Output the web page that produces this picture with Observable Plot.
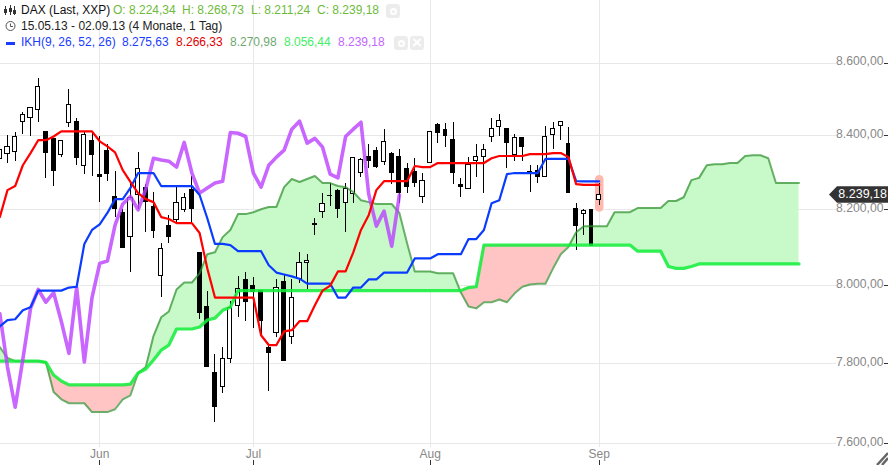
<!DOCTYPE html>
<html><head><meta charset="utf-8">
<script src="https://cdn.jsdelivr.net/npm/d3@7"></script>
<script src="https://cdn.jsdelivr.net/npm/@observablehq/plot@0.6"></script>
<style>
html,body{margin:0;padding:0;background:#fff;}
#wrap{position:relative;width:888px;height:465px;overflow:hidden;font-family:"Liberation Sans",Arial,sans-serif;}
#wrap svg{display:block;}
.t{position:absolute;font-size:12px;line-height:14px;white-space:nowrap;}
.b{position:absolute;width:14px;height:14px;border-radius:3px;background:#ececec;}
.b:after{content:"";position:absolute;left:3.5px;top:3.5px;width:3px;height:3px;border:2px solid #fff;border-radius:50%;}
.x:after{content:"\00d7";left:2px;top:-2px;width:auto;height:auto;border:0;color:#fff;font-size:17px;font-weight:bold;line-height:17px;border-radius:0;}
#last{position:absolute;left:829px;width:59px;height:16.5px;background:#333;color:#fff;font-size:12.5px;line-height:16.5px;text-align:right;box-sizing:border-box;padding-right:1px;clip-path:polygon(0 50%,8px 0,100% 0,100% 100%,8px 100%);}
</style></head><body><div id="wrap"></div>
<script>
const highs=[8368,8400,8408,8463,8477,8557,8411,8392,8387,8527,
8447,8408,8408,8397,8376,8301,8199,8274,8354,8266,
8247,8111,8185,8263,8244,8290,8087,7985,7824,7842,
7959,8024,8034,8021,7987,7847,8016,8026,8016,8087,
8082,8177,8244,8271,8255,8271,8338,8338,8376,8368,
8417,8354,8362,8325,8336,8298,8408,8433,8433,8436,
8282,8341,8376,8376,8447,8458,8419,8403,8395,8319,
8319,8425,8436,8439,8422,8217,8201,8201,8268.73];
const lows=[8325,8325,8328,8403,8397,8436,8282,8263,8341,8422,
8317,8295,8290,8218,8274,8180,8098,8034,8199,8140,
8124,7969,8111,8167,8191,8164,7913,7791,7653,7725,
7801,7918,7906,7890,7867,7730,7865,7804,7849,8005,
7990,8130,8177,8209,8177,8138,8217,8287,8311,8309,
8319,8266,8217,8244,8258,8215,8325,8379,8368,8268,
8231,8255,8285,8242,8381,8397,8309,8330,8328,8247,
8271,8287,8362,8387,8242,8093,8132,8103,8211.24];
const opens=[8336,8349,8354,8436,8447,8469,8411,8392,8346,8433,
8439,8317,8387,8293,8360,8236,8191,8127,8239,8258,
8207,8024,8159,8172,8199,8255,8087,7946,7778,7741,
7811,7946,8016,8000,7987,7842,7877,8011,7867,8018,
8058,8164,8193,8239,8252,8217,8242,8298,8344,8360,
8327,8352,8344,8309,8303,8233,8325,8430,8417,8389,
8266,8255,8330,8341,8395,8422,8419,8346,8395,8301,
8306,8287,8400,8425,8379,8204,8188,8199,8224.34];
const closes=[8360,8368,8395,8455,8474,8532,8352,8303,8384,8483,
8336,8400,8346,8285,8295,8199,8098,8231,8309,8220,
8143,8095,8127,8217,8231,8199,7928,7791,7690,7811,
7941,7990,7957,7982,7908,7826,7995,7804,7969,8058,
8064,8159,8215,8235,8199,8255,8338,8333,8330,8314,
8381,8298,8244,8258,8271,8276,8408,8406,8397,8298,
8260,8319,8341,8360,8417,8439,8379,8392,8368,8295,
8285,8397,8417,8436,8242,8156,8196,8103,8239.18];
const tenkan=[7895,7911,7913,7936,7944,7987,7987,7987,7987,7995,
7997,8109,8146,8161,8191,8228,8228,8258,8298,8298,
8298,8263,8263,8263,8263,8263,8239,8177,8109,8109,
8106,8090,8090,8090,8090,8053,8034,8029,8024,8018,
8005,8005,8005,8005,7969,7969,7995,7995,8016,8016,
8034,8034,8034,8034,8071,8071,8071,8082,8082,8082,
8082,8122,8122,8146,8217,8225,8295,8298,8298,8298,
8298,8336,8336,8336,8336,8276,8275.63,8275.63,8275.63];
const kijun=[8180,8252,8263,8319,8352,8387,8387,8397,8411,8411,
8411,8411,8411,8384,8370,8354,8306,8274,8244,8228,
8220,8180,8175,8164,8164,8164,8138,8045,7969,7969,
7969,7969,7969,7969,7872,7847,7847,7882,7885,7908,
7908,7949,7987,8000,8037,8037,8087,8146,8185,8252,
8276,8276,8276,8276,8317,8314,8314,8325,8325,8325,
8325,8325,8325,8325,8338,8344,8344,8344,8344,8349,
8349,8349,8352,8352,8341,8268,8266.33,8266.33,8266.33];
const chikou=[7928,7791,7690,7811,7941,7990,7957,7982,7908,7826,
7995,7804,7969,8058,8064,8159,8215,8235,8199,8255,
8338,8333,8330,8314,8381,8298,8244,8258,8271,8276,
8408,8406,8397,8298,8260,8319,8341,8360,8417,8439,
8379,8392,8368,8295,8285,8397,8417,8436,8242,8156,
8196,8103,8239.18];
const senkouA=[7842,7814,7806,7806,7806,7806,7803,7728,7710,7700,
7700,7700,7678,7678,7678,7685,7710,7720,7776,7791,
7870,7918,7933,7990,8008,8008,8032,8082,8087,8127,
8146,8188,8188,8193,8201,8207,8207,8260,8282,8274,
8282,8290,8271,8271,8263,8260,8247,8225,8220,8215,
8215,8215,8191,8111,8037,8037,8037,8032,8032,8032,
7982,7946,7941,7957,7957,7964,7957,7980,7997,8003,
8005,8005,8045,8082,8101,8140,8156,8156,8156,8156,
8193,8193,8193,8204,8204,8204,8204,8223,8223,8233,
8279,8285,8319,8322,8322,8325,8325,8344,8346,8346,
8338,8271,8270.98,8270.98,8270.98];
const senkouB=[7806,7806,7806,7806,7806,7806,7803,7771,7756,7746,
7746,7746,7746,7746,7746,7746,7746,7748,7776,7786,
7809,7834,7847,7888,7888,7888,7893,7911,7916,7936,
7944,7987,7987,7987,7987,7987,7987,7987,7987,7987,
7987,7987,7987,7987,7987,7987,7987,7987,7987,7987,
7987,7987,7987,7987,7987,7987,7987,7987,7987,7987,
7987,7995,7997,8106,8106,8106,8106,8106,8106,8106,
8106,8106,8106,8106,8106,8106,8106,8106,8106,8106,
8106,8106,8106,8090,8090,8090,8090,8050,8045,8045,
8050,8056.44,8056.44,8056.44,8056.44,8056.44,8056.44,8056.44,8056.44,8056.44,
8056.44,8056.44,8056.44,8056.44,8056.44];
const monthDays=[13,33,56,78];
const monthLabels=["Jun","Jul","Aug","Sep"];
const priceTicks=[8600,8400,8200,8000,7800,7600];
const priceLabels=["8.600,00","8.400,00","8.200,00","8.000,00","7.800,00","7.600,00"];
const highlight=[{d:78,hi:8280,lo:8204}];
const lastPrice=8239.18;

const candles=highs.map((h,i)=>({d:i,h,l:lows[i],o:opens[i],c:closes[i],up:closes[i]>=opens[i]}));
const up=candles.filter(c=>c.up), down=candles.filter(c=>!c.up);
const cloud=senkouA.map((a,i)=>({d:i,a,b:senkouB[i]}));
const series=a=>a.map((v,i)=>({d:i,v}));
const crisp={shapeRendering:"crispEdges"};

const plot=Plot.plot({
  width:888,height:465,marginTop:0,marginRight:0,marginBottom:0,marginLeft:0,
  style:{background:"#fff",overflow:"hidden"},
  x:{axis:null,type:"linear",domain:[0,104],range:[-0.7,798.5]},
  y:{axis:null,type:"log",domain:[7600,8600],range:[443,62.5]},
  marks:[
    Plot.ruleX(monthDays,{x:d=>d,stroke:"#e8e8e8",strokeWidth:1,insetBottom:18,...crisp}),
    Plot.ruleY(priceTicks,{y:d=>d,stroke:"#e8e8e8",strokeWidth:1,insetRight:52,...crisp}),
    Plot.ruleX(monthDays,{x:d=>d,stroke:"#333",strokeWidth:1,insetTop:460,...crisp}),
    Plot.ruleY(priceTicks,{y:d=>d,stroke:"#333",strokeWidth:1,insetLeft:884,...crisp}),
    Plot.text(monthLabels,{x:(d,i)=>monthDays[i],text:d=>d,frameAnchor:"bottom",dy:-8,fill:"#888",fontSize:12,fontFamily:"Liberation Sans"}),
    Plot.text(priceLabels,{y:(d,i)=>priceTicks[i],text:d=>d,frameAnchor:"right",dx:-5,dy:-1.5,textAnchor:"end",fill:"#888",fontSize:12.2,fontFamily:"Liberation Sans"}),
    Plot.areaY(cloud,{x:"d",y1:"b",y2:d=>Math.max(d.a,d.b),fill:"#c8f9c8"}),
    Plot.areaY(cloud,{x:"d",y1:"b",y2:d=>Math.min(d.a,d.b),fill:"#ffc4c4"}),
    Plot.ruleX(highlight,{x:"d",y1:"hi",y2:"lo",stroke:"#ffb8ae",strokeWidth:8.5,strokeLinecap:"round"}),
    Plot.ruleX(candles,{x:"d",y1:"l",y2:"h",stroke:"#000",strokeWidth:1,...crisp}),
    Plot.rect(down,{x1:d=>d.d-0.32,x2:d=>d.d+0.32,y1:"o",y2:"c",fill:"#000",...crisp}),
    Plot.rect(up,{x1:d=>d.d-0.27,x2:d=>d.d+0.27,y1:"o",y2:"c",fill:"#fff",stroke:"#000",strokeWidth:1,...crisp}),
    Plot.line(series(senkouA),{x:"d",y:"v",stroke:"#2f8f2f",strokeWidth:2,strokeOpacity:0.7,curve:"linear"}),
    Plot.line(series(senkouB),{x:"d",y:"v",stroke:"#14ee3c",strokeWidth:3.2,strokeOpacity:0.88,curve:"linear"}),
    Plot.line(series(chikou),{x:"d",y:"v",stroke:"#ba40ff",strokeWidth:3.6,strokeOpacity:0.8,curve:"linear"}),
    Plot.line(series(tenkan),{x:"d",y:"v",stroke:"#0a3cff",strokeWidth:2.2,curve:"linear"}),
    Plot.line(series(kijun),{x:"d",y:"v",stroke:"#ff0000",strokeWidth:2.2,curve:"linear"})
  ]
});
const wrap=document.getElementById("wrap");
wrap.appendChild(plot);

const header=[
 [21,3,"DAX (Last, XXP)","#111"],[113,3,"O: 8.224,34","#6dbb3c"],[182,3,"H: 8.268,73","#6dbb3c"],[251,3,"L: 8.211,24","#6dbb3c"],[317,3,"C: 8.239,18","#6dbb3c"],
 [21,19,"15.05.13 - 02.09.13 (4 Monate, 1 Tag)","#222"],
 [21,35,"IKH(9, 26, 52, 26)","#1a3cff"],[122,35,"8.275,63","#1a3cff"],[176,35,"8.266,33","#e00000"],[230,35,"8.270,98","#6fa86f"],[284,35,"8.056,44","#44ee66"],[338,35,"8.239,18","#c266ff"]
];
header.forEach(([x,y,s,c])=>{const e=document.createElement("div");e.className="t";e.style.left=x+"px";e.style.top=y+"px";e.style.color=c;e.textContent=s;wrap.appendChild(e);});
[[386,4,""],[394,36,""],[410,36,"x"]].forEach(([x,y,k])=>{const e=document.createElement("div");e.className="b "+k;e.style.left=x+"px";e.style.top=y+"px";wrap.appendChild(e);});
const last=document.createElement("div");last.id="last";last.textContent="8.239,18";
last.style.top=(plot.scale("y").apply(lastPrice)-8.25)+"px";wrap.appendChild(last);
const icons=document.createElement("div");
icons.innerHTML=`<svg width="888" height="465" style="position:absolute;left:0;top:0;pointer-events:none">
<g stroke="#333" fill="none" stroke-width="1">
<path d="M5.5 6v9M10.5 5v10M14.5 6v9"/><rect x="4.5" y="9.5" width="2" height="3"/><rect x="9.5" y="8.5" width="2" height="3"/><rect x="13.5" y="10.5" width="2" height="3"/>
<circle cx="10.5" cy="26" r="4.5" stroke="#555"/><path d="M10.5 23.5V26.5H13" stroke="#555"/></g>
<rect x="6" y="42" width="9" height="3" fill="#1a3cff"/>
<path d="M888 453L877 465M888 458L882 465" stroke="#666" stroke-width="2.5"/></svg>`;
wrap.appendChild(icons);
</script></body></html>
